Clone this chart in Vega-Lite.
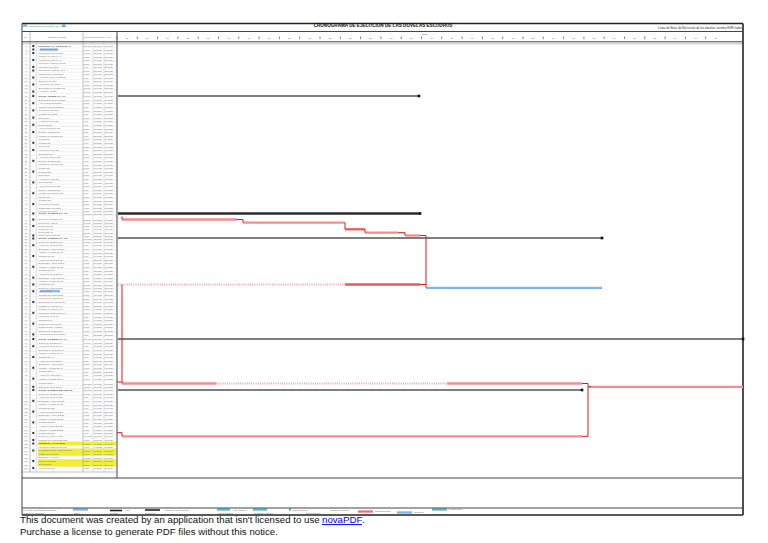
{
"$schema":"https://vega.github.io/schema/vega-lite/v6.json",
"width":768,"height":543,"autosize":{"type":"fit","contains":"padding"},"padding":0,
"background":"#ffffff",
"config":{"view":{"stroke":null},"text":{"font":"Liberation Sans"}},
"resolve":{"scale":{"color":"independent"}},
"datasets":{
"hl":[
{"x":38,"x2":116,"y":441.8,"y2":445.3,"k":"yellow"},
{"x":38,"x2":116,"y":448.6,"y2":455.8,"k":"yellow"},
{"x":38,"x2":116,"y":459.3,"y2":466.4,"k":"yellow"},
{"x":40,"x2":58,"y":48.4,"y2":50.8,"k":"blue"},
{"x":40,"x2":60,"y":289.9,"y2":292.4,"k":"blue"},
{"x":23,"x2":27,"y":24.3,"y2":27,"k":"blue"},
{"x":62,"x2":65.5,"y":24.3,"y2":27,"k":"blue"}
],
"rows":[
{"y":46,"i":1,"n":"CRONOGRAMA DE DOVELAS","d":"245 días","s":"02/01/23","f":"30/11/23","b":1,"k":1},
{"y":49.5,"i":2,"n":"Inicio del proyecto","d":"0 días","s":"02/01/23","f":"02/01/23","b":0,"k":1},
{"y":53,"i":3,"n":"Movilización de equipos","d":"10 días","s":"02/01/23","f":"13/01/23","b":0,"k":1},
{"y":56.5,"i":4,"n":"Montaje de carro N° 1","d":"6 días","s":"16/01/23","f":"21/01/23","b":0},
{"y":60,"i":5,"n":"Montaje de carro N° 2","d":"6 días","s":"16/01/23","f":"21/01/23","b":0,"k":1},
{"y":63.5,"i":6,"n":"Prueba de carga de carros","d":"2 días","s":"23/01/23","f":"24/01/23","b":0},
{"y":67,"i":7,"n":"Liberación de frente","d":"1 día","s":"25/01/23","f":"25/01/23","b":0,"k":1},
{"y":70.5,"i":8,"n":"Topografía y trazo de ejes","d":"2 días","s":"25/01/23","f":"26/01/23","b":0,"k":1},
{"y":74,"i":9,"n":"Instalación de andamios","d":"3 días","s":"26/01/23","f":"28/01/23","b":0},
{"y":77.5,"i":10,"n":"Aprobación de encofrados","d":"1 día","s":"30/01/23","f":"30/01/23","b":0,"k":1},
{"y":81,"i":11,"n":"Diseño de mezcla","d":"7 días","s":"02/01/23","f":"09/01/23","b":0},
{"y":84.5,"i":12,"n":"Aprobación de planos","d":"5 días","s":"09/01/23","f":"13/01/23","b":0,"k":1},
{"y":88,"i":13,"n":"Suministro de preesfuerzo","d":"15 días","s":"09/01/23","f":"25/01/23","b":0},
{"y":91.5,"i":14,"n":"Anclajes y ductos","d":"15 días","s":"09/01/23","f":"25/01/23","b":0,"k":1},
{"y":96,"i":15,"n":"DOVELA SOBRE PILA P1","d":"90 días","s":"02/01/23","f":"15/04/23","b":1,"k":1},
{"y":99.6,"i":16,"n":"Encofrado dovela arranque","d":"4 días","s":"31/01/23","f":"03/02/23","b":0},
{"y":103.2,"i":17,"n":"Acero dovela arranque","d":"5 días","s":"04/02/23","f":"09/02/23","b":0,"k":1},
{"y":106.8,"i":18,"n":"Vaciado dovela arranque","d":"1 día","s":"10/02/23","f":"10/02/23","b":0},
{"y":110.4,"i":19,"n":"Curado de concreto","d":"3 días","s":"11/02/23","f":"14/02/23","b":0,"k":1},
{"y":114,"i":20,"n":"Tensado de cables","d":"1 día","s":"15/02/23","f":"15/02/23","b":0},
{"y":117.6,"i":21,"n":"Dovela D1","d":"8 días","s":"16/02/23","f":"24/02/23","b":0,"k":1},
{"y":121.2,"i":22,"n":"Avance de carro D1","d":"1 día","s":"16/02/23","f":"16/02/23","b":0},
{"y":124.8,"i":23,"n":"Encofrado D1","d":"1 día","s":"17/02/23","f":"17/02/23","b":0,"k":1},
{"y":128.4,"i":24,"n":"Acero de refuerzo D1","d":"2 días","s":"18/02/23","f":"20/02/23","b":0},
{"y":132,"i":25,"n":"Ductos y anclajes D1","d":"1 día","s":"21/02/23","f":"21/02/23","b":0,"k":1},
{"y":135.6,"i":26,"n":"Vaciado de concreto D1","d":"1 día","s":"22/02/23","f":"22/02/23","b":0},
{"y":139.2,"i":27,"n":"Curado D1","d":"2 días","s":"23/02/23","f":"24/02/23","b":0},
{"y":142.8,"i":28,"n":"Tensado D1","d":"1 día","s":"25/02/23","f":"25/02/23","b":0,"k":1},
{"y":146.4,"i":29,"n":"Dovela D2","d":"8 días","s":"27/02/23","f":"07/03/23","b":0},
{"y":150,"i":30,"n":"Avance de carro D2","d":"1 día","s":"27/02/23","f":"27/02/23","b":0,"k":1},
{"y":153.6,"i":31,"n":"Encofrado D2","d":"1 día","s":"28/02/23","f":"28/02/23","b":0},
{"y":157.2,"i":32,"n":"Acero de refuerzo D2","d":"2 días","s":"01/03/23","f":"02/03/23","b":0},
{"y":160.8,"i":33,"n":"Ductos y anclajes D2","d":"1 día","s":"03/03/23","f":"03/03/23","b":0,"k":1},
{"y":164.4,"i":34,"n":"Vaciado de concreto D2","d":"1 día","s":"04/03/23","f":"04/03/23","b":0},
{"y":168,"i":35,"n":"Curado D2","d":"2 días","s":"06/03/23","f":"07/03/23","b":0},
{"y":171.6,"i":36,"n":"Tensado D2","d":"1 día","s":"08/03/23","f":"08/03/23","b":0,"k":1},
{"y":175.2,"i":37,"n":"Dovela D3","d":"8 días","s":"09/03/23","f":"17/03/23","b":0},
{"y":178.8,"i":38,"n":"Avance de carro D3","d":"1 día","s":"09/03/23","f":"09/03/23","b":0},
{"y":182.4,"i":39,"n":"Encofrado D3","d":"1 día","s":"10/03/23","f":"10/03/23","b":0,"k":1},
{"y":186,"i":40,"n":"Acero de refuerzo D3","d":"2 días","s":"11/03/23","f":"13/03/23","b":0},
{"y":189.6,"i":41,"n":"Ductos y anclajes D3","d":"1 día","s":"14/03/23","f":"14/03/23","b":0},
{"y":193.2,"i":42,"n":"Vaciado de concreto D3","d":"1 día","s":"15/03/23","f":"15/03/23","b":0,"k":1},
{"y":196.8,"i":43,"n":"Curado D3","d":"2 días","s":"16/03/23","f":"17/03/23","b":0},
{"y":200.4,"i":44,"n":"Tensado D3","d":"1 día","s":"18/03/23","f":"18/03/23","b":0},
{"y":204,"i":45,"n":"Inyección de ductos","d":"3 días","s":"20/03/23","f":"22/03/23","b":0,"k":1},
{"y":207.6,"i":46,"n":"Desmontaje de carros","d":"4 días","s":"23/03/23","f":"27/03/23","b":0},
{"y":210.6,"i":47,"n":"Fin dovelas pila P1","d":"0 días","s":"27/03/23","f":"27/03/23","b":0},
{"y":213.5,"i":48,"n":"DOVELAS SOBRE PILA P2","d":"105 días","s":"02/01/23","f":"15/05/23","b":1,"k":1},
{"y":219.5,"i":49,"n":"Dovela de arranque P2","d":"38 días","s":"03/01/23","f":"17/02/23","b":0,"k":1},
{"y":222.7,"i":50,"n":"Dovela D1 - D2 P2","d":"34 días","s":"20/02/23","f":"31/03/23","b":0},
{"y":226,"i":51,"n":"Dovela D3 P2","d":"6 días","s":"03/04/23","f":"08/04/23","b":0,"k":1},
{"y":229.3,"i":52,"n":"Dovela D4 P2","d":"7 días","s":"10/04/23","f":"17/04/23","b":0},
{"y":232.5,"i":53,"n":"Dovela D5 P2","d":"11 días","s":"18/04/23","f":"29/04/23","b":0},
{"y":235.5,"i":54,"n":"Cierre de dovelas P2","d":"6 días","s":"02/05/23","f":"08/05/23","b":0,"k":1},
{"y":238.5,"i":55,"n":"DOVELAS SOBRE PILA P3","d":"160 días","s":"02/01/23","f":"20/07/23","b":1,"k":1},
{"y":241.6,"i":56,"n":"Dovela de arranque P3","d":"10 días","s":"02/01/23","f":"13/01/23","b":0},
{"y":245.2,"i":57,"n":"Avance de carro D1 P3","d":"1 día","s":"16/01/23","f":"16/01/23","b":0,"k":1},
{"y":248.8,"i":58,"n":"Encofrado y acero D1 P3","d":"3 días","s":"17/01/23","f":"19/01/23","b":0},
{"y":252.4,"i":59,"n":"Vaciado y curado D1 P3","d":"3 días","s":"20/01/23","f":"23/01/23","b":0},
{"y":256,"i":60,"n":"Tensado D1 P3","d":"1 día","s":"24/01/23","f":"24/01/23","b":0,"k":1},
{"y":259.6,"i":61,"n":"Avance de carro D2 P3","d":"1 día","s":"25/01/23","f":"25/01/23","b":0},
{"y":263.2,"i":62,"n":"Encofrado y acero D2 P3","d":"3 días","s":"26/01/23","f":"28/01/23","b":0},
{"y":266.8,"i":63,"n":"Vaciado y curado D2 P3","d":"3 días","s":"30/01/23","f":"01/02/23","b":0,"k":1},
{"y":270.4,"i":64,"n":"Tensado D2 P3","d":"1 día","s":"02/02/23","f":"02/02/23","b":0},
{"y":274,"i":65,"n":"Avance de carro D3 P3","d":"1 día","s":"03/02/23","f":"03/02/23","b":0},
{"y":277.6,"i":66,"n":"Encofrado y acero D3 P3","d":"3 días","s":"04/02/23","f":"07/02/23","b":0,"k":1},
{"y":281.2,"i":67,"n":"Vaciado y curado D3 P3","d":"3 días","s":"08/02/23","f":"10/02/23","b":0},
{"y":284.5,"i":68,"n":"Tensado D3 P3","d":"85 días","s":"02/01/23","f":"08/05/23","b":0,"k":1},
{"y":287.8,"i":69,"n":"Dovela de cierre P2-P3","d":"60 días","s":"09/05/23","f":"20/07/23","b":0},
{"y":291.2,"i":70,"n":"Cierre central","d":"0 días","s":"20/07/23","f":"20/07/23","b":0,"k":1},
{"y":294.8,"i":71,"n":"Tensado de continuidad","d":"2 días","s":"21/07/23","f":"22/07/23","b":0},
{"y":298.4,"i":72,"n":"Inyección de ductos P3","d":"3 días","s":"24/07/23","f":"26/07/23","b":0},
{"y":302,"i":73,"n":"Desmontaje de carros P3","d":"4 días","s":"27/07/23","f":"31/07/23","b":0,"k":1},
{"y":305.6,"i":74,"n":"Traslado de carros a P4","d":"3 días","s":"01/08/23","f":"03/08/23","b":0},
{"y":309.2,"i":75,"n":"Montaje de carros en P4","d":"6 días","s":"04/08/23","f":"10/08/23","b":0},
{"y":312.8,"i":76,"n":"Prueba de carga carros P4","d":"2 días","s":"11/08/23","f":"12/08/23","b":0,"k":1},
{"y":316.4,"i":77,"n":"Liberación frente P4","d":"1 día","s":"14/08/23","f":"14/08/23","b":0},
{"y":320,"i":78,"n":"Topografía P4","d":"2 días","s":"14/08/23","f":"15/08/23","b":0},
{"y":323.6,"i":79,"n":"Control de deflexiones","d":"1 día","s":"16/08/23","f":"16/08/23","b":0,"k":1},
{"y":327.2,"i":80,"n":"Contraflechas y ajustes","d":"2 días","s":"17/08/23","f":"18/08/23","b":0},
{"y":330.8,"i":81,"n":"Ensayos de resistencia","d":"7 días","s":"19/08/23","f":"26/08/23","b":0},
{"y":334.4,"i":82,"n":"Aprobación de supervisión","d":"1 día","s":"28/08/23","f":"28/08/23","b":0,"k":1},
{"y":339,"i":83,"n":"DOVELAS SOBRE PILA P4","d":"200 días","s":"02/01/23","f":"30/08/23","b":1,"k":1},
{"y":342.6,"i":84,"n":"Dovela de arranque P4","d":"10 días","s":"02/01/23","f":"13/01/23","b":0},
{"y":346.2,"i":85,"n":"Avance de carro D1 P4","d":"1 día","s":"16/01/23","f":"16/01/23","b":0,"k":1},
{"y":349.8,"i":86,"n":"Encofrado y acero D1 P4","d":"3 días","s":"17/01/23","f":"19/01/23","b":0},
{"y":353.4,"i":87,"n":"Vaciado y curado D1 P4","d":"3 días","s":"20/01/23","f":"23/01/23","b":0},
{"y":357,"i":88,"n":"Tensado D1 P4","d":"1 día","s":"24/01/23","f":"24/01/23","b":0,"k":1},
{"y":360.6,"i":89,"n":"Avance de carro D2 P4","d":"1 día","s":"25/01/23","f":"25/01/23","b":0},
{"y":364.2,"i":90,"n":"Encofrado y acero D2 P4","d":"3 días","s":"26/01/23","f":"28/01/23","b":0},
{"y":367.8,"i":91,"n":"Vaciado y curado D2 P4","d":"3 días","s":"30/01/23","f":"01/02/23","b":0,"k":1},
{"y":371.4,"i":92,"n":"Tensado D2 P4","d":"1 día","s":"02/02/23","f":"02/02/23","b":0},
{"y":375,"i":93,"n":"Avance de carro D3 P4","d":"1 día","s":"03/02/23","f":"03/02/23","b":0},
{"y":378.6,"i":94,"n":"Vaciado y curado D3 P4","d":"3 días","s":"04/02/23","f":"07/02/23","b":0,"k":1},
{"y":383.5,"i":95,"n":"Tensado D3 P4","d":"130 días","s":"03/01/23","f":"10/06/23","b":0},
{"y":386.8,"i":96,"n":"Dovela de cierre P3-P4","d":"45 días","s":"13/06/23","f":"05/08/23","b":0,"k":1},
{"y":390,"i":97,"n":"DOVELAS SOBRE ESTRIBO E2","d":"135 días","s":"02/01/23","f":"10/06/23","b":1,"k":1},
{"y":393.6,"i":98,"n":"Dovela de arranque E2","d":"10 días","s":"02/01/23","f":"13/01/23","b":0},
{"y":397.2,"i":99,"n":"Avance de carro D1 E2","d":"1 día","s":"16/01/23","f":"16/01/23","b":0},
{"y":400.8,"i":100,"n":"Encofrado y acero D1 E2","d":"3 días","s":"17/01/23","f":"19/01/23","b":0,"k":1},
{"y":404.4,"i":101,"n":"Vaciado y curado D1 E2","d":"3 días","s":"20/01/23","f":"23/01/23","b":0},
{"y":408,"i":102,"n":"Tensado D1 E2","d":"1 día","s":"24/01/23","f":"24/01/23","b":0},
{"y":411.6,"i":103,"n":"Avance de carro D2 E2","d":"1 día","s":"25/01/23","f":"25/01/23","b":0,"k":1},
{"y":415.2,"i":104,"n":"Encofrado y acero D2 E2","d":"3 días","s":"26/01/23","f":"28/01/23","b":0},
{"y":418.8,"i":105,"n":"Vaciado y curado D2 E2","d":"3 días","s":"30/01/23","f":"01/02/23","b":0},
{"y":422.4,"i":106,"n":"Tensado D2 E2","d":"1 día","s":"02/02/23","f":"02/02/23","b":0,"k":1},
{"y":426,"i":107,"n":"Avance de carro D3 E2","d":"1 día","s":"03/02/23","f":"03/02/23","b":0},
{"y":429.6,"i":108,"n":"Vaciado y curado D3 E2","d":"3 días","s":"04/02/23","f":"07/02/23","b":0},
{"y":433,"i":109,"n":"Tensado D3 E2","d":"1 día","s":"08/02/23","f":"08/02/23","b":0,"k":1},
{"y":436.3,"i":110,"n":"Dovela de cierre P4-E2","d":"130 días","s":"03/01/23","f":"10/06/23","b":0},
{"y":440,"i":111,"n":"Tensado de continuidad final","d":"2 días","s":"12/06/23","f":"13/06/23","b":0,"k":1},
{"y":443.5,"i":112,"n":"PRUEBAS Y ACABADOS","d":"40 días","s":"14/08/23","f":"30/09/23","b":1,"k":1},
{"y":447,"i":113,"n":"Prueba de carga del puente","d":"5 días","s":"14/08/23","f":"19/08/23","b":0},
{"y":450.5,"i":114,"n":"Levantamiento de observaciones","d":"10 días","s":"21/08/23","f":"31/08/23","b":0,"k":1},
{"y":454,"i":115,"n":"Juntas de dilatación","d":"8 días","s":"01/09/23","f":"09/09/23","b":0},
{"y":457.5,"i":116,"n":"Barandas y veredas","d":"10 días","s":"11/09/23","f":"21/09/23","b":0},
{"y":461,"i":117,"n":"Carpeta asfáltica","d":"5 días","s":"22/09/23","f":"27/09/23","b":0,"k":1},
{"y":464.5,"i":118,"n":"Señalización","d":"3 días","s":"28/09/23","f":"30/09/23","b":0},
{"y":468,"i":119,"n":"Fin del proyecto","d":"0 días","s":"30/09/23","f":"30/09/23","b":0,"k":1}
],
"seg":[
{"x":22,"x2":743,"y":43.8,"y2":43.8,"k":"grid"},
{"x":30,"x2":30,"y":31.5,"y2":472,"k":"grid"},
{"x":36.5,"x2":36.5,"y":41.8,"y2":472,"k":"gridLight"},
{"x":83,"x2":83,"y":31.5,"y2":472,"k":"grid"},
{"x":93,"x2":93,"y":41.8,"y2":472,"k":"gridLight"},
{"x":104,"x2":104,"y":41.8,"y2":472,"k":"gridLight"},
{"x":22,"x2":117,"y":472,"y2":472,"k":"grid"},
{"x":22,"x2":743,"y":23.5,"y2":23.5,"k":"thick"},
{"x":22,"x2":743,"y":31.5,"y2":31.5,"k":"frame"},
{"x":22,"x2":743,"y":41.8,"y2":41.8,"k":"frame"},
{"x":22,"x2":743,"y":478,"y2":478,"k":"frame"},
{"x":22,"x2":743,"y":508,"y2":508,"k":"frame"},
{"x":22,"x2":743,"y":515,"y2":515,"k":"thick"},
{"x":22,"x2":22,"y":23.5,"y2":515,"k":"frame"},
{"x":743,"x2":743,"y":23.5,"y2":515,"k":"thick"},
{"x":117,"x2":117,"y":31.5,"y2":478,"k":"frame"},
{"x":118,"x2":419,"y":96,"y2":96,"k":"sum"},
{"x":118,"x2":420,"y":213.5,"y2":213.5,"k":"sumBlack"},
{"x":118,"x2":602,"y":238,"y2":238,"k":"sum"},
{"x":118,"x2":743,"y":339,"y2":339,"k":"sum"},
{"x":118,"x2":582,"y":390,"y2":390,"k":"sum"},
{"x":122,"x2":237,"y":219.5,"y2":219.5,"k":"crit"},
{"x":243,"x2":345,"y":222.7,"y2":222.7,"k":"crit"},
{"x":345,"x2":365,"y":229.3,"y2":229.3,"k":"critDark"},
{"x":365,"x2":398,"y":232.7,"y2":232.7,"k":"crit"},
{"x":405,"x2":420,"y":235.5,"y2":235.5,"k":"crit"},
{"x":118,"x2":345,"y":284.5,"y2":284.5,"k":"critDot"},
{"x":345,"x2":420,"y":284.5,"y2":284.5,"k":"critDark"},
{"x":426,"x2":602,"y":287.8,"y2":287.8,"k":"base"},
{"x":122,"x2":216,"y":383.5,"y2":383.5,"k":"crit"},
{"x":216,"x2":447,"y":383.5,"y2":383.5,"k":"critDot"},
{"x":447,"x2":582,"y":383.5,"y2":383.5,"k":"crit"},
{"x":589,"x2":743,"y":386.8,"y2":386.8,"k":"crit"},
{"x":122,"x2":582,"y":436.3,"y2":436.3,"k":"crit"},
{"x":122,"x2":122,"y":216.5,"y2":219.5,"k":"link"},
{"x":237,"x2":243,"y":219.5,"y2":219.5,"k":"link"},
{"x":243,"x2":243,"y":219.5,"y2":222.7,"k":"link"},
{"x":345,"x2":345,"y":222.7,"y2":229.3,"k":"link"},
{"x":365,"x2":365,"y":229.3,"y2":232.7,"k":"link"},
{"x":398,"x2":405,"y":232.7,"y2":232.7,"k":"link"},
{"x":405,"x2":405,"y":232.7,"y2":235.5,"k":"link"},
{"x":420,"x2":426,"y":235.5,"y2":235.5,"k":"link"},
{"x":426,"x2":426,"y":235.5,"y2":287.8,"k":"link"},
{"x":420,"x2":426,"y":284.5,"y2":284.5,"k":"link"},
{"x":122,"x2":122,"y":284.5,"y2":383.5,"k":"link"},
{"x":117,"x2":122,"y":382,"y2":382,"k":"link"},
{"x":582,"x2":588,"y":383.5,"y2":383.5,"k":"link"},
{"x":588,"x2":588,"y":383.5,"y2":436.3,"k":"link"},
{"x":582,"x2":588,"y":436.3,"y2":436.3,"k":"link"},
{"x":588,"x2":591,"y":386.8,"y2":386.8,"k":"link"},
{"x":117,"x2":122,"y":432.7,"y2":432.7,"k":"link"},
{"x":122,"x2":122,"y":432.7,"y2":436.3,"k":"link"},
{"x":73,"x2":88,"y":509.5,"y2":509.5,"k":"legBlue"},
{"x":110,"x2":122,"y":510.5,"y2":510.5,"k":"legDark"},
{"x":145,"x2":160,"y":510,"y2":510,"k":"legDark"},
{"x":217,"x2":230,"y":509.5,"y2":509.5,"k":"legTeal"},
{"x":253,"x2":267,"y":509.5,"y2":509.5,"k":"legTeal"},
{"x":289,"x2":291,"y":509.5,"y2":509.5,"k":"legTeal"},
{"x":358,"x2":373,"y":511.5,"y2":511.5,"k":"legRed"},
{"x":397,"x2":412,"y":512.5,"y2":512.5,"k":"legBlue"},
{"x":432,"x2":447,"y":509.5,"y2":509.5,"k":"legTeal"},
{"x":322,"x2":362,"y":524.6,"y2":524.6,"k":"underline"}
],
"ticks":[
{"x":117,"t":"02"},{"x":137.3,"t":"09"},{"x":157.6,"t":"16"},{"x":177.9,"t":"23"},{"x":198.2,"t":"30"},{"x":218.5,"t":"06"},{"x":238.8,"t":"13"},{"x":259.1,"t":"20"},{"x":279.4,"t":"27"},{"x":299.7,"t":"06"},{"x":320,"t":"13"},{"x":340.3,"t":"20"},{"x":360.6,"t":"27"},{"x":380.9,"t":"03"},{"x":401.2,"t":"10"},{"x":421.5,"t":"17"},{"x":441.8,"t":"24"},{"x":462.1,"t":"01"},{"x":482.4,"t":"08"},{"x":502.7,"t":"15"},{"x":523,"t":"22"},{"x":543.3,"t":"29"},{"x":563.6,"t":"05"},{"x":583.9,"t":"12"},{"x":604.2,"t":"19"},{"x":624.5,"t":"26"},{"x":644.8,"t":"03"},{"x":665.1,"t":"10"},{"x":685.4,"t":"17"},{"x":705.7,"t":"24"}
],
"markers":[
{"x":419,"y":96},{"x":420,"y":213.5},{"x":602,"y":238},{"x":743,"y":339},{"x":582,"y":390}
],
"labels":[
{"x":383,"y":25.8,"t":"CRONOGRAMA DE EJECUCION DE LAS DOVELAS ESCUDRUS","k":"title"},
{"x":742,"y":27.6,"t":"Linea de Base de Ejecución de las dovelas sistema ESR tramo","k":"hdr"},
{"x":28,"y":25.6,"t":"CONSORCIO PUENTE SANTA ROSA","k":"logo"},
{"x":24,"y":36.8,"t":"Id","k":"small"},
{"x":48,"y":36.8,"t":"Nombre de tarea","k":"small"},
{"x":84,"y":36.8,"t":"Duración","k":"small"},
{"x":94,"y":36.8,"t":"Comienzo","k":"small"},
{"x":107,"y":36.8,"t":"Fin","k":"small"},
{"x":422,"y":34,"t":"2023","k":"small"},
{"x":23,"y":510.3,"t":"Proyecto: Cronograma Dovelas","k":"small"},
{"x":23,"y":513.2,"t":"Fecha: lun 13/03/23","k":"small"},
{"x":74,"y":513.3,"t":"Tarea","k":"small"},
{"x":110,"y":513.3,"t":"División","k":"small"},
{"x":125,"y":510.3,"t":"Hito","k":"small"},
{"x":145,"y":513.3,"t":"Resumen","k":"small"},
{"x":165,"y":510.3,"t":"Resumen del proyecto","k":"small"},
{"x":218,"y":512.8,"t":"Tarea inactiva","k":"small"},
{"x":233,"y":510.3,"t":"Hito inactivo","k":"small"},
{"x":254,"y":512.8,"t":"Resumen inactivo","k":"small"},
{"x":293,"y":510.3,"t":"Tarea manual","k":"small"},
{"x":306,"y":513.3,"t":"solo duración","k":"small"},
{"x":330,"y":510.3,"t":"Resumen manual","k":"small"},
{"x":375,"y":511.5,"t":"Tareas críticas","k":"small"},
{"x":414,"y":512.5,"t":"Progreso","k":"small"},
{"x":449,"y":509.5,"t":"Fecha límite","k":"small"},
{"x":20,"y":523,"t":"This document was created by an application that isn't licensed to use ","k":"note"},
{"x":322,"y":523,"t":"novaPDF","k":"link"},
{"x":362,"y":523,"t":".","k":"note"},
{"x":20,"y":535,"t":"Purchase a license to generate PDF files without this notice.","k":"note"}
]
},
"layer":[
{"data":{"name":"hl"},"mark":{"type":"rect"},
 "encoding":{"x":{"field":"x","type":"quantitative","scale":{"domain":[0,768],"nice":false,"zero":false},"axis":null},
  "x2":{"field":"x2"},
  "y":{"field":"y","type":"quantitative","scale":{"domain":[0,543],"nice":false,"zero":false,"reverse":true},"axis":null},
  "y2":{"field":"y2"},
  "color":{"field":"k","type":"nominal","scale":{"domain":["yellow","blue"],"range":["#f4f21c","#8fbbe8"]},"legend":null}}},
{"data":{"name":"rows"},"mark":{"type":"rule","yOffset":1.75,"strokeWidth":0.4,"color":"#dcdcdc"},
 "encoding":{"x":{"datum":22,"type":"quantitative","scale":{"domain":[0,768],"nice":false,"zero":false},"axis":null},
  "x2":{"datum":117},
  "y":{"field":"y","type":"quantitative","scale":{"domain":[0,543],"nice":false,"zero":false,"reverse":true},"axis":null}}},
{"data":{"name":"rows"},"mark":{"type":"text","fontSize":2.2,"align":"center","baseline":"middle","color":"#777"},
 "encoding":{"x":{"datum":26,"type":"quantitative","scale":{"domain":[0,768],"nice":false,"zero":false},"axis":null},
  "y":{"field":"y","type":"quantitative","scale":{"domain":[0,543],"nice":false,"zero":false,"reverse":true},"axis":null},
  "text":{"field":"i"}}},
{"data":{"name":"rows"},"mark":{"type":"text","fontSize":2.3,"align":"left","baseline":"middle"},
 "encoding":{"x":{"datum":38.5,"type":"quantitative","scale":{"domain":[0,768],"nice":false,"zero":false},"axis":null},
  "y":{"field":"y","type":"quantitative","scale":{"domain":[0,543],"nice":false,"zero":false,"reverse":true},"axis":null},
  "text":{"field":"n"},
  "color":{"field":"b","type":"nominal","scale":{"domain":[0,1],"range":["#707070","#1a1a1a"]},"legend":null}}},
{"data":{"name":"rows"},"mark":{"type":"text","fontSize":2.1,"align":"left","baseline":"middle","color":"#707070"},
 "encoding":{"x":{"datum":83.6,"type":"quantitative","scale":{"domain":[0,768],"nice":false,"zero":false},"axis":null},
  "y":{"field":"y","type":"quantitative","scale":{"domain":[0,543],"nice":false,"zero":false,"reverse":true},"axis":null},
  "text":{"field":"d"}}},
{"data":{"name":"rows"},"mark":{"type":"text","fontSize":2.1,"align":"left","baseline":"middle","color":"#707070"},
 "encoding":{"x":{"datum":93.6,"type":"quantitative","scale":{"domain":[0,768],"nice":false,"zero":false},"axis":null},
  "y":{"field":"y","type":"quantitative","scale":{"domain":[0,543],"nice":false,"zero":false,"reverse":true},"axis":null},
  "text":{"field":"s"}}},
{"data":{"name":"rows"},"mark":{"type":"text","fontSize":2.1,"align":"left","baseline":"middle","color":"#707070"},
 "encoding":{"x":{"datum":104.6,"type":"quantitative","scale":{"domain":[0,768],"nice":false,"zero":false},"axis":null},
  "y":{"field":"y","type":"quantitative","scale":{"domain":[0,543],"nice":false,"zero":false,"reverse":true},"axis":null},
  "text":{"field":"f"}}},
{"data":{"name":"rows"},"transform":[{"filter":"datum.k == 1"}],"mark":{"type":"point","shape":"square","filled":true,"size":4,"color":"#1e3556","opacity":1},
 "encoding":{"x":{"datum":33.3,"type":"quantitative","scale":{"domain":[0,768],"nice":false,"zero":false},"axis":null},
  "y":{"field":"y","type":"quantitative","scale":{"domain":[0,543],"nice":false,"zero":false,"reverse":true},"axis":null}}},
{"data":{"name":"seg"},"transform":[{"filter":{"field":"k","oneOf":["grid","gridLight"]}}],"mark":{"type":"rule","strokeWidth":0.6},
 "encoding":{"x":{"field":"x","type":"quantitative","scale":{"domain":[0,768],"nice":false,"zero":false},"axis":null},"x2":{"field":"x2"},
  "y":{"field":"y","type":"quantitative","scale":{"domain":[0,543],"nice":false,"zero":false,"reverse":true},"axis":null},"y2":{"field":"y2"},
  "color":{"field":"k","type":"nominal","scale":{"domain":["grid","gridLight"],"range":["#9a9a9a","#cfcfcf"]},"legend":null}}},
{"data":{"name":"seg"},"transform":[{"filter":{"field":"k","oneOf":["thick","sum","legDark"]}}],"mark":{"type":"rule","strokeWidth":1.6},
 "encoding":{"x":{"field":"x","type":"quantitative","scale":{"domain":[0,768],"nice":false,"zero":false},"axis":null},"x2":{"field":"x2"},
  "y":{"field":"y","type":"quantitative","scale":{"domain":[0,543],"nice":false,"zero":false,"reverse":true},"axis":null},"y2":{"field":"y2"},
  "color":{"field":"k","type":"nominal","scale":{"domain":["thick","sum","legDark"],"range":["#222222","#555555","#222222"]},"legend":null}}},
{"data":{"name":"seg"},"transform":[{"filter":{"field":"k","oneOf":["crit","base","legBlue","legTeal","legRed"]}}],"mark":{"type":"rule","strokeWidth":2.3},
 "encoding":{"x":{"field":"x","type":"quantitative","scale":{"domain":[0,768],"nice":false,"zero":false},"axis":null},"x2":{"field":"x2"},
  "y":{"field":"y","type":"quantitative","scale":{"domain":[0,543],"nice":false,"zero":false,"reverse":true},"axis":null},"y2":{"field":"y2"},
  "color":{"field":"k","type":"nominal","scale":{"domain":["crit","base","legBlue","legTeal","legRed"],"range":["#f38c8c","#80b4ea","#80b4ea","#4fbcc4","#ef7272"]},"legend":null}}},
{"data":{"name":"seg"},"transform":[{"filter":{"field":"k","oneOf":["sumBlack","critDark"]}}],"mark":{"type":"rule","strokeWidth":2.3},
 "encoding":{"x":{"field":"x","type":"quantitative","scale":{"domain":[0,768],"nice":false,"zero":false},"axis":null},"x2":{"field":"x2"},
  "y":{"field":"y","type":"quantitative","scale":{"domain":[0,543],"nice":false,"zero":false,"reverse":true},"axis":null},"y2":{"field":"y2"},
  "color":{"field":"k","type":"nominal","scale":{"domain":["sumBlack","critDark"],"range":["#2a2a2a","#e65c5c"]},"legend":null}}},
{"data":{"name":"seg"},"transform":[{"filter":{"field":"k","equal":"critDot"}}],"mark":{"type":"rule","strokeWidth":2,"strokeDash":[1,1.2],"color":"#f5a9a9"},
 "encoding":{"x":{"field":"x","type":"quantitative","scale":{"domain":[0,768],"nice":false,"zero":false},"axis":null},"x2":{"field":"x2"},
  "y":{"field":"y","type":"quantitative","scale":{"domain":[0,543],"nice":false,"zero":false,"reverse":true},"axis":null},"y2":{"field":"y2"}}},
{"data":{"name":"seg"},"transform":[{"filter":{"field":"k","oneOf":["frame","link","underline"]}}],"mark":{"type":"rule","strokeWidth":1},
 "encoding":{"x":{"field":"x","type":"quantitative","scale":{"domain":[0,768],"nice":false,"zero":false},"axis":null},"x2":{"field":"x2"},
  "y":{"field":"y","type":"quantitative","scale":{"domain":[0,543],"nice":false,"zero":false,"reverse":true},"axis":null},"y2":{"field":"y2"},
  "color":{"field":"k","type":"nominal","scale":{"domain":["frame","link","underline"],"range":["#444444","#e8141b","#0000ee"]},"legend":null}}},
{"data":{"name":"ticks"},"mark":{"type":"rule","strokeWidth":0.7,"color":"#555"},
 "encoding":{"x":{"field":"x","type":"quantitative","scale":{"domain":[0,768],"nice":false,"zero":false},"axis":null},
  "y":{"datum":36.5,"type":"quantitative","scale":{"domain":[0,543],"nice":false,"zero":false,"reverse":true},"axis":null},"y2":{"datum":39.2}}},
{"data":{"name":"ticks"},"mark":{"type":"text","fontSize":2.3,"align":"center","baseline":"middle","color":"#666","dx":10},
 "encoding":{"x":{"field":"x","type":"quantitative","scale":{"domain":[0,768],"nice":false,"zero":false},"axis":null},
  "y":{"datum":37.6,"type":"quantitative","scale":{"domain":[0,543],"nice":false,"zero":false,"reverse":true},"axis":null},
  "text":{"field":"t"}}},
{"data":{"name":"markers"},"mark":{"type":"point","shape":"square","filled":true,"size":7,"color":"#111","opacity":1},
 "encoding":{"x":{"field":"x","type":"quantitative","scale":{"domain":[0,768],"nice":false,"zero":false},"axis":null},
  "y":{"field":"y","type":"quantitative","scale":{"domain":[0,543],"nice":false,"zero":false,"reverse":true},"axis":null}}},
{"data":{"name":"labels"},"transform":[{"filter":{"field":"k","equal":"title"}}],"mark":{"type":"text","fontSize":4.6,"fontWeight":"bold","align":"center","baseline":"middle","color":"#111"},
 "encoding":{"x":{"field":"x","type":"quantitative","scale":{"domain":[0,768],"nice":false,"zero":false},"axis":null},
  "y":{"field":"y","type":"quantitative","scale":{"domain":[0,543],"nice":false,"zero":false,"reverse":true},"axis":null},"text":{"field":"t"}}},
{"data":{"name":"labels"},"transform":[{"filter":{"field":"k","equal":"hdr"}}],"mark":{"type":"text","fontSize":3,"align":"right","baseline":"middle","color":"#333"},
 "encoding":{"x":{"field":"x","type":"quantitative","scale":{"domain":[0,768],"nice":false,"zero":false},"axis":null},
  "y":{"field":"y","type":"quantitative","scale":{"domain":[0,543],"nice":false,"zero":false,"reverse":true},"axis":null},"text":{"field":"t"}}},
{"data":{"name":"labels"},"transform":[{"filter":{"field":"k","equal":"logo"}}],"mark":{"type":"text","fontSize":2.3,"align":"left","baseline":"middle","color":"#3d9160"},
 "encoding":{"x":{"field":"x","type":"quantitative","scale":{"domain":[0,768],"nice":false,"zero":false},"axis":null},
  "y":{"field":"y","type":"quantitative","scale":{"domain":[0,543],"nice":false,"zero":false,"reverse":true},"axis":null},"text":{"field":"t"}}},
{"data":{"name":"labels"},"transform":[{"filter":{"field":"k","equal":"small"}}],"mark":{"type":"text","fontSize":2.4,"align":"left","baseline":"middle","color":"#666"},
 "encoding":{"x":{"field":"x","type":"quantitative","scale":{"domain":[0,768],"nice":false,"zero":false},"axis":null},
  "y":{"field":"y","type":"quantitative","scale":{"domain":[0,543],"nice":false,"zero":false,"reverse":true},"axis":null},"text":{"field":"t"}}},
{"data":{"name":"labels"},"transform":[{"filter":{"field":"k","oneOf":["note","link"]}}],"mark":{"type":"text","fontSize":9.7,"align":"left","baseline":"alphabetic"},
 "encoding":{"x":{"field":"x","type":"quantitative","scale":{"domain":[0,768],"nice":false,"zero":false},"axis":null},
  "y":{"field":"y","type":"quantitative","scale":{"domain":[0,543],"nice":false,"zero":false,"reverse":true},"axis":null},"text":{"field":"t"},
  "color":{"field":"k","type":"nominal","scale":{"domain":["note","link"],"range":["#111111","#0000ee"]},"legend":null}}}
]
}
